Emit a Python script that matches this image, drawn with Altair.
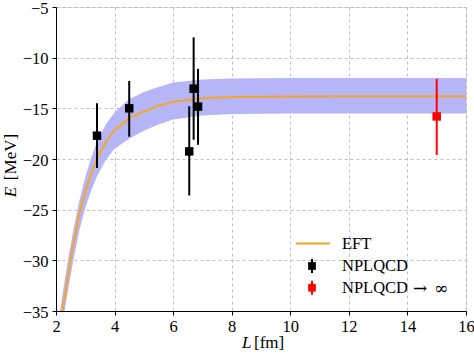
import altair as alt
import pandas as pd

# EFT curve
curve_L = [2.22, 2.3, 2.45, 2.6, 2.8, 3.0, 3.2, 3.4, 3.7, 4.0, 4.5, 5.0, 5.5, 6.0, 7.0, 8.0, 10.0, 12.0, 14.0, 16.0]
curve_E = [-35.0, -33.5, -30.8, -28.3, -25.4, -23.2, -21.45, -20.0, -18.3, -17.15, -16.0, -15.3, -14.75, -14.35, -14.0, -13.88, -13.82, -13.8, -13.8, -13.8]

# EFT uncertainty band
band_L = [2.12, 2.22, 2.3, 2.45, 2.6, 2.8, 3.0, 3.2, 3.4, 3.7, 4.0, 4.5, 5.0, 5.5, 6.0, 7.0, 8.0, 10.0, 12.0, 14.0, 16.0]
band_hi = [-35.3, -33.4, -31.9, -29.3, -26.9, -24.1, -21.8, -19.9, -18.3, -16.6, -15.4, -14.1, -13.4, -12.9, -12.45, -12.15, -12.05, -12.0, -12.0, -12.0, -12.0]
band_lo = [-39.0, -36.4, -34.9, -32.3, -29.9, -27.0, -24.8, -23.1, -21.7, -20.1, -19.0, -18.0, -17.2, -16.6, -16.1, -15.7, -15.55, -15.5, -15.5, -15.5, -15.5]

# NPLQCD lattice points
pts_L = [3.4, 4.5, 6.55, 6.7, 6.85]
pts_E = [-17.7, -15.0, -19.25, -13.06, -14.83]
pts_lo = [-20.9, -17.8, -23.6, -18.1, -18.6]
pts_hi = [-14.5, -12.3, -14.8, -8.0, -11.1]

# infinite volume extrapolation
inf_L = [15.0]
inf_E = [-15.8]
inf_lo = [-19.6]
inf_hi = [-12.1]

x_ticks = [2, 4, 6, 8, 10, 12, 14, 16]
y_ticks = [-35, -30, -25, -20, -15, -10, -5]
legend_labels = ["EFT", "NPLQCD", "NPLQCD", "\u2192", "\u221e"]

FONT = "Liberation Serif"
FS = 16.5

curve_df = pd.DataFrame({"L": curve_L, "E": curve_E})
band_df = pd.DataFrame({"L": band_L, "hi": band_hi, "lo": band_lo})
pts_df = pd.DataFrame({"L": pts_L, "E": pts_E, "lo": pts_lo, "hi": pts_hi})
inf_df = pd.DataFrame({"L": inf_L, "E": inf_E, "lo": inf_lo, "hi": inf_hi})

xs = alt.Scale(domain=[2, 16], nice=False, zero=False)
ys = alt.Scale(domain=[-35, -5], nice=False, zero=False)

xax = alt.Axis(values=x_ticks, title=None, grid=True, gridDash=[3, 3], gridColor="#b0b0b0",
               gridWidth=0.8, tickSize=4, tickColor="black", labelPadding=3,
               domainColor="black", labelFont=FONT, labelFontSize=FS, labelColor="black",
               labelFlush=False, labelOverlap=False)
yax = alt.Axis(values=y_ticks, title=None, grid=True, gridDash=[3, 3], gridColor="#b0b0b0",
               gridWidth=0.8, tickSize=4, tickColor="black", labelPadding=4, labelOffset=1,
               domainColor="black", labelFont=FONT, labelFontSize=FS, labelColor="black",
               labelFlush=False, labelOverlap=False)

band = alt.Chart(band_df).mark_area(color="#b5b5f8", opacity=1, clip=True).encode(
    x=alt.X("L:Q", scale=xs, axis=xax),
    y=alt.Y("lo:Q", scale=ys, axis=yax),
    y2="hi:Q",
)
line = alt.Chart(curve_df).mark_line(color="#f5a623", strokeWidth=2, clip=True).encode(
    x=alt.X("L:Q", scale=xs),
    y=alt.Y("E:Q", scale=ys),
)

def errpts(df, color):
    bars = alt.Chart(df).mark_rule(color=color, strokeWidth=2).encode(
        x=alt.X("L:Q", scale=xs), y=alt.Y("lo:Q", scale=ys), y2="hi:Q")
    sq = alt.Chart(df).mark_point(shape="square", filled=True, size=72, color=color, opacity=1).encode(
        x=alt.X("L:Q", scale=xs), y=alt.Y("E:Q", scale=ys))
    return bars + sq

black_pts = errpts(pts_df, "black")
red_pts = errpts(inf_df, "#ff0000")

# Legend (drawn manually inside the plot)
leg_df = pd.DataFrame({"label": legend_labels, "i": list(range(len(legend_labels)))})
def pick(i):
    return alt.Chart(leg_df).transform_filter(alt.datum.i == i)

leg_line = pick(0).mark_rule(color="#f5a623", strokeWidth=2).encode(
    x=alt.value(240), x2=alt.value(274), y=alt.value(236.5))
leg_bar1 = pick(1).mark_rule(color="black", strokeWidth=2).encode(
    x=alt.value(256), y=alt.value(252), y2=alt.value(266))
leg_sq1 = pick(1).mark_point(shape="square", filled=True, size=60, color="black", opacity=1).encode(
    x=alt.value(256), y=alt.value(259))
leg_bar2 = pick(2).mark_rule(color="#ff0000", strokeWidth=2).encode(
    x=alt.value(256), y=alt.value(273.7), y2=alt.value(287.7))
leg_sq2 = pick(2).mark_point(shape="square", filled=True, size=60, color="#ff0000", opacity=1).encode(
    x=alt.value(256), y=alt.value(280.7))

def leg_text(i, xpix, ypix, font=FONT, fs=FS):
    return pick(i).mark_text(align="left", baseline="middle", font=font, fontSize=fs, color="black").encode(
        x=alt.value(xpix), y=alt.value(ypix), text="label:N")

legend = (leg_line + leg_bar1 + leg_sq1 + leg_bar2 + leg_sq2
          + leg_text(0, 286, 236.5) + leg_text(1, 286, 259) + leg_text(2, 286, 280.7)
          + leg_text(3, 357, 281.5, "DejaVu Serif", 17) + leg_text(4, 378, 281.5, "DejaVu Serif", 17))

# Axis titles (italic variable + regular unit)
ttl = pd.DataFrame({"t": ["L", "[fm]", "E", "[MeV]"]})
def tmark(txt, x, y, italic, angle=0, align="left"):
    kw = dict(align=align, baseline="middle", font=FONT, fontSize=17, color="black")
    if italic:
        kw["fontStyle"] = "italic"
    if angle:
        kw["angle"] = angle
    return alt.Chart(ttl).transform_filter(alt.datum.t == txt).mark_text(**kw).encode(
        x=alt.value(x), y=alt.value(y), text="t:N")

titles = (tmark("L", 186, 336, True) + tmark("[fm]", 198, 336, False)
          + tmark("E", -45, 185, True, 270, "center") + tmark("[MeV]", -45, 150, False, 270, "center"))

chart = alt.layer(
    band, line, black_pts, red_pts, legend, titles,
).properties(
    width=410, height=304,
    autosize=alt.AutoSizeParams(type="none"),
    padding={"left": 56, "top": 7, "right": 8, "bottom": 42},
).configure_view(stroke="black", strokeWidth=1.2).configure(background="white")

chart.save("out.html", embed_options={"renderer": "svg", "actions": False})
